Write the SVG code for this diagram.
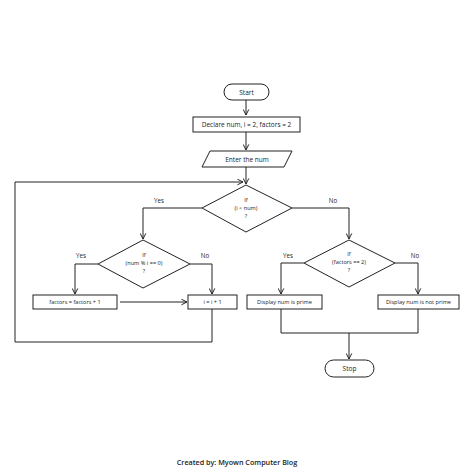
<svg xmlns="http://www.w3.org/2000/svg" width="474" height="474" viewBox="0 0 474 474">
<defs>
<marker id="arr" viewBox="0 0 10 10" refX="9" refY="5" markerWidth="7" markerHeight="7" markerUnits="userSpaceOnUse" orient="auto">
<path d="M1,1 L9,5 L1,9" fill="none" stroke="#222" stroke-width="1.4"/>
</marker>
<style>
.s{fill:#fff;stroke:#222;stroke-width:1}
.c{fill:none;stroke:#222;stroke-width:1}
.t{font-family:"Open Sans","Liberation Sans",sans-serif;fill:#222;text-anchor:middle}
.m{font-size:6.5px}
.sm{font-size:5.6px}
.lb{font-size:6.2px}
</style>
</defs>
<rect width="474" height="474" fill="#fff"/>
<g id="connectors">
<path class="c" d="M246,100 V115" marker-end="url(#arr)"/>
<path class="c" d="M246,132 V150" marker-end="url(#arr)"/>
<path class="c" d="M246,167 V184" marker-end="url(#arr)"/>
<path class="c" d="M202,208 H143 V239" marker-end="url(#arr)"/>
<path class="c" d="M292,208 H349 V239" marker-end="url(#arr)"/>
<path class="c" d="M98,264 H75 V294" marker-end="url(#arr)"/>
<path class="c" d="M190,264 H212 V294" marker-end="url(#arr)"/>
<path class="c" d="M120,302 H187" marker-end="url(#arr)"/>
<path class="c" d="M212,309 V342 H15 V182 H243" marker-end="url(#arr)"/>
<path class="c" d="M304,263 H281 V294" marker-end="url(#arr)"/>
<path class="c" d="M395,263 H418 V294" marker-end="url(#arr)"/>
<path class="c" d="M281,309 V333 H418 V309"/>
<path class="c" d="M349,333 V359" marker-end="url(#arr)"/>
<text class="t lb" x="159" y="203">Yes</text>
<text class="t lb" x="333" y="203">No</text>
<text class="t lb" x="81" y="258">Yes</text>
<text class="t lb" x="205" y="258">No</text>
<text class="t lb" x="288" y="258">Yes</text>
<text class="t lb" x="415" y="258">No</text>
</g>
<g id="start">
<rect class="s" x="224" y="84" width="45" height="16" rx="8"/>
<text class="t m" x="246.5" y="94.5">Start</text>
</g>
<g id="declare">
<rect class="s" x="193" y="117" width="107" height="15"/>
<text class="t m" x="246.5" y="127">Declare num, i = 2, factors = 2</text>
</g>
<g id="input">
<polygon class="s" points="210,151 292,151 284,167 202,167"/>
<text class="t m" x="247" y="161.5">Enter the num</text>
</g>
<g id="cond1">
<polygon class="s" points="246,185 292,208 246,232 202,208"/>
<text class="t sm" x="246" y="202">If</text>
<text class="t sm" x="246" y="210">(i &lt; num)</text>
<text class="t sm" x="246" y="218">?</text>
</g>
<g id="cond2">
<polygon class="s" points="143,240 190,264 143,288 98,264"/>
<text class="t sm" x="144" y="257">If</text>
<text class="t sm" x="144" y="265">(num % i == 0)</text>
<text class="t sm" x="144" y="273">?</text>
</g>
<g id="cond3">
<polygon class="s" points="349,240 395,263 349,287 304,263"/>
<text class="t sm" x="349" y="256">If</text>
<text class="t sm" x="349" y="264">(factors == 2)</text>
<text class="t sm" x="349" y="272">?</text>
</g>
<g id="inc-factors">
<rect class="s" x="33" y="295" width="84" height="14"/>
<text class="t sm" x="75" y="304">factors = factors + 1</text>
</g>
<g id="inc-i">
<rect class="s" x="188" y="295" width="49" height="14"/>
<text class="t sm" x="212.5" y="304">i = i + 1</text>
</g>
<g id="prime">
<rect class="s" x="247" y="295" width="75" height="14"/>
<text class="t sm" x="284.5" y="304">Display num is prime</text>
</g>
<g id="not-prime">
<rect class="s" x="378" y="295" width="81" height="14"/>
<text class="t sm" x="418.5" y="304">Display num is not prime</text>
</g>
<g id="stop">
<rect class="s" x="325" y="360" width="49" height="17" rx="8.5"/>
<text class="t m" x="349.5" y="371">Stop</text>
</g>
<text class="t" x="237" y="465" style="font-size:7.2px;font-weight:600">Created by: Myown Computer Blog</text>
</svg>
